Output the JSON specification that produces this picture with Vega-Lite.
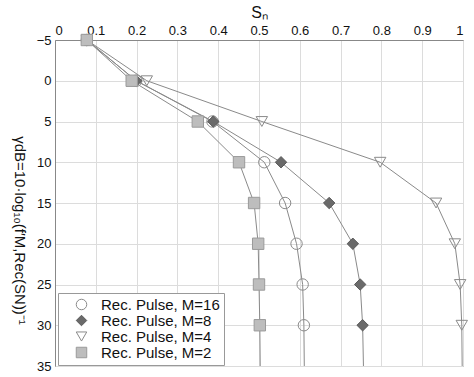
{
  "$schema": "https://vega.github.io/schema/vega-lite/v6.json",
  "width": 408,
  "height": 326,
  "autosize": {"type": "none"},
  "padding": {"left": 55, "top": 40, "right": 11, "bottom": 11},
  "background": "white",
  "config": {
    "font": "Liberation Sans",
    "view": {"stroke": "#888", "strokeWidth": 1},
    "axis": {"gridColor": "#dcdcdc", "gridWidth": 1, "domainColor": "#888", "tickSize": 0, "labelColor": "#111", "titleColor": "#111", "labelFontSize": 13, "labelFont": "Liberation Sans", "titleFont": "Liberation Sans", "titleFontWeight": "normal"}
  },
  "data": {"values": [
    {"series": "Rec. Pulse, M=16", "g": -5, "s": 0.078, "m": 1},
    {"series": "Rec. Pulse, M=16", "g": 0, "s": 0.199, "m": 1},
    {"series": "Rec. Pulse, M=16", "g": 5, "s": 0.386, "m": 1},
    {"series": "Rec. Pulse, M=16", "g": 10, "s": 0.513, "m": 1},
    {"series": "Rec. Pulse, M=16", "g": 15, "s": 0.564, "m": 1},
    {"series": "Rec. Pulse, M=16", "g": 20, "s": 0.592, "m": 1},
    {"series": "Rec. Pulse, M=16", "g": 25, "s": 0.607, "m": 1},
    {"series": "Rec. Pulse, M=16", "g": 30, "s": 0.610, "m": 1},
    {"series": "Rec. Pulse, M=16", "g": 35, "s": 0.611, "m": 0},
    {"series": "Rec. Pulse, M=8", "g": -5, "s": 0.078, "m": 1},
    {"series": "Rec. Pulse, M=8", "g": 0, "s": 0.199, "m": 1},
    {"series": "Rec. Pulse, M=8", "g": 5, "s": 0.388, "m": 1},
    {"series": "Rec. Pulse, M=8", "g": 10, "s": 0.554, "m": 1},
    {"series": "Rec. Pulse, M=8", "g": 15, "s": 0.672, "m": 1},
    {"series": "Rec. Pulse, M=8", "g": 20, "s": 0.730, "m": 1},
    {"series": "Rec. Pulse, M=8", "g": 25, "s": 0.748, "m": 1},
    {"series": "Rec. Pulse, M=8", "g": 30, "s": 0.754, "m": 1},
    {"series": "Rec. Pulse, M=8", "g": 35, "s": 0.756, "m": 0},
    {"series": "Rec. Pulse, M=4", "g": -5, "s": 0.078, "m": 1},
    {"series": "Rec. Pulse, M=4", "g": 0, "s": 0.225, "m": 1},
    {"series": "Rec. Pulse, M=4", "g": 5, "s": 0.507, "m": 1},
    {"series": "Rec. Pulse, M=4", "g": 10, "s": 0.797, "m": 1},
    {"series": "Rec. Pulse, M=4", "g": 15, "s": 0.934, "m": 1},
    {"series": "Rec. Pulse, M=4", "g": 20, "s": 0.980, "m": 1},
    {"series": "Rec. Pulse, M=4", "g": 25, "s": 0.993, "m": 1},
    {"series": "Rec. Pulse, M=4", "g": 30, "s": 0.997, "m": 1},
    {"series": "Rec. Pulse, M=4", "g": 35, "s": 0.998, "m": 0},
    {"series": "Rec. Pulse, M=2", "g": -5, "s": 0.078, "m": 1},
    {"series": "Rec. Pulse, M=2", "g": 0, "s": 0.188, "m": 1},
    {"series": "Rec. Pulse, M=2", "g": 5, "s": 0.350, "m": 1},
    {"series": "Rec. Pulse, M=2", "g": 10, "s": 0.451, "m": 1},
    {"series": "Rec. Pulse, M=2", "g": 15, "s": 0.488, "m": 1},
    {"series": "Rec. Pulse, M=2", "g": 20, "s": 0.498, "m": 1},
    {"series": "Rec. Pulse, M=2", "g": 25, "s": 0.500, "m": 1},
    {"series": "Rec. Pulse, M=2", "g": 30, "s": 0.502, "m": 1},
    {"series": "Rec. Pulse, M=2", "g": 35, "s": 0.503, "m": 0}
  ]},
  "encoding": {
    "x": {"field": "s", "type": "quantitative", "scale": {"domain": [0, 1], "nice": false, "zero": false},
      "axis": {"orient": "top", "values": [0, 0.1, 0.2, 0.3, 0.4, 0.5, 0.6, 0.7, 0.8, 0.9, 1], "format": "~g", "title": "Sₙ", "titleFontSize": 16, "titlePadding": 4, "labelPadding": 3}},
    "y": {"field": "g", "type": "quantitative", "scale": {"domain": [-5, 35], "nice": false, "zero": false, "reverse": true},
      "axis": {"values": [-5, 0, 5, 10, 15, 20, 25, 30, 35], "title": "γdB=10·log₁₀(f′M,Rec(SN))⁻¹", "titleAngle": 90, "titleFontSize": 15, "titleX": -36, "titleY": 190, "titleAlign": "center", "titleBaseline": "middle", "labelPadding": 4}}
  },
  "layer": [
    {
      "mark": {"type": "line", "color": "#8a8a8a", "strokeWidth": 1},
      "encoding": {"detail": {"field": "series"}, "order": {"field": "g"}}
    },
    {
      "transform": [{"filter": "datum.m == 1"}],
      "mark": {"type": "point", "filled": false, "strokeWidth": 1, "size": 130, "opacity": 1},
      "encoding": {
        "shape": {"field": "series", "type": "nominal",
          "scale": {"domain": ["Rec. Pulse, M=16", "Rec. Pulse, M=8", "Rec. Pulse, M=4", "Rec. Pulse, M=2"], "range": ["circle", "diamond", "triangle-down", "square"]},
          "legend": {"title": null, "orient": "none", "legendX": 3, "legendY": 253, "fillColor": "white", "strokeColor": "#999", "padding": 4, "labelFontSize": 15, "labelColor": "#111", "labelFont": "Liberation Sans", "symbolSize": 110, "symbolStrokeWidth": 1, "symbolOffset": 12, "rowPadding": 0, "labelOffset": 12}},
        "fill": {"field": "series", "type": "nominal",
          "scale": {"domain": ["Rec. Pulse, M=16", "Rec. Pulse, M=8", "Rec. Pulse, M=4", "Rec. Pulse, M=2"], "range": ["transparent", "#6a6a6a", "transparent", "#bdbdbd"]}},
        "stroke": {"field": "series", "type": "nominal",
          "scale": {"domain": ["Rec. Pulse, M=16", "Rec. Pulse, M=8", "Rec. Pulse, M=4", "Rec. Pulse, M=2"], "range": ["#8a8a8a", "#5a5a5a", "#8a8a8a", "#9a9a9a"]}}
      }
    }
  ]
}
